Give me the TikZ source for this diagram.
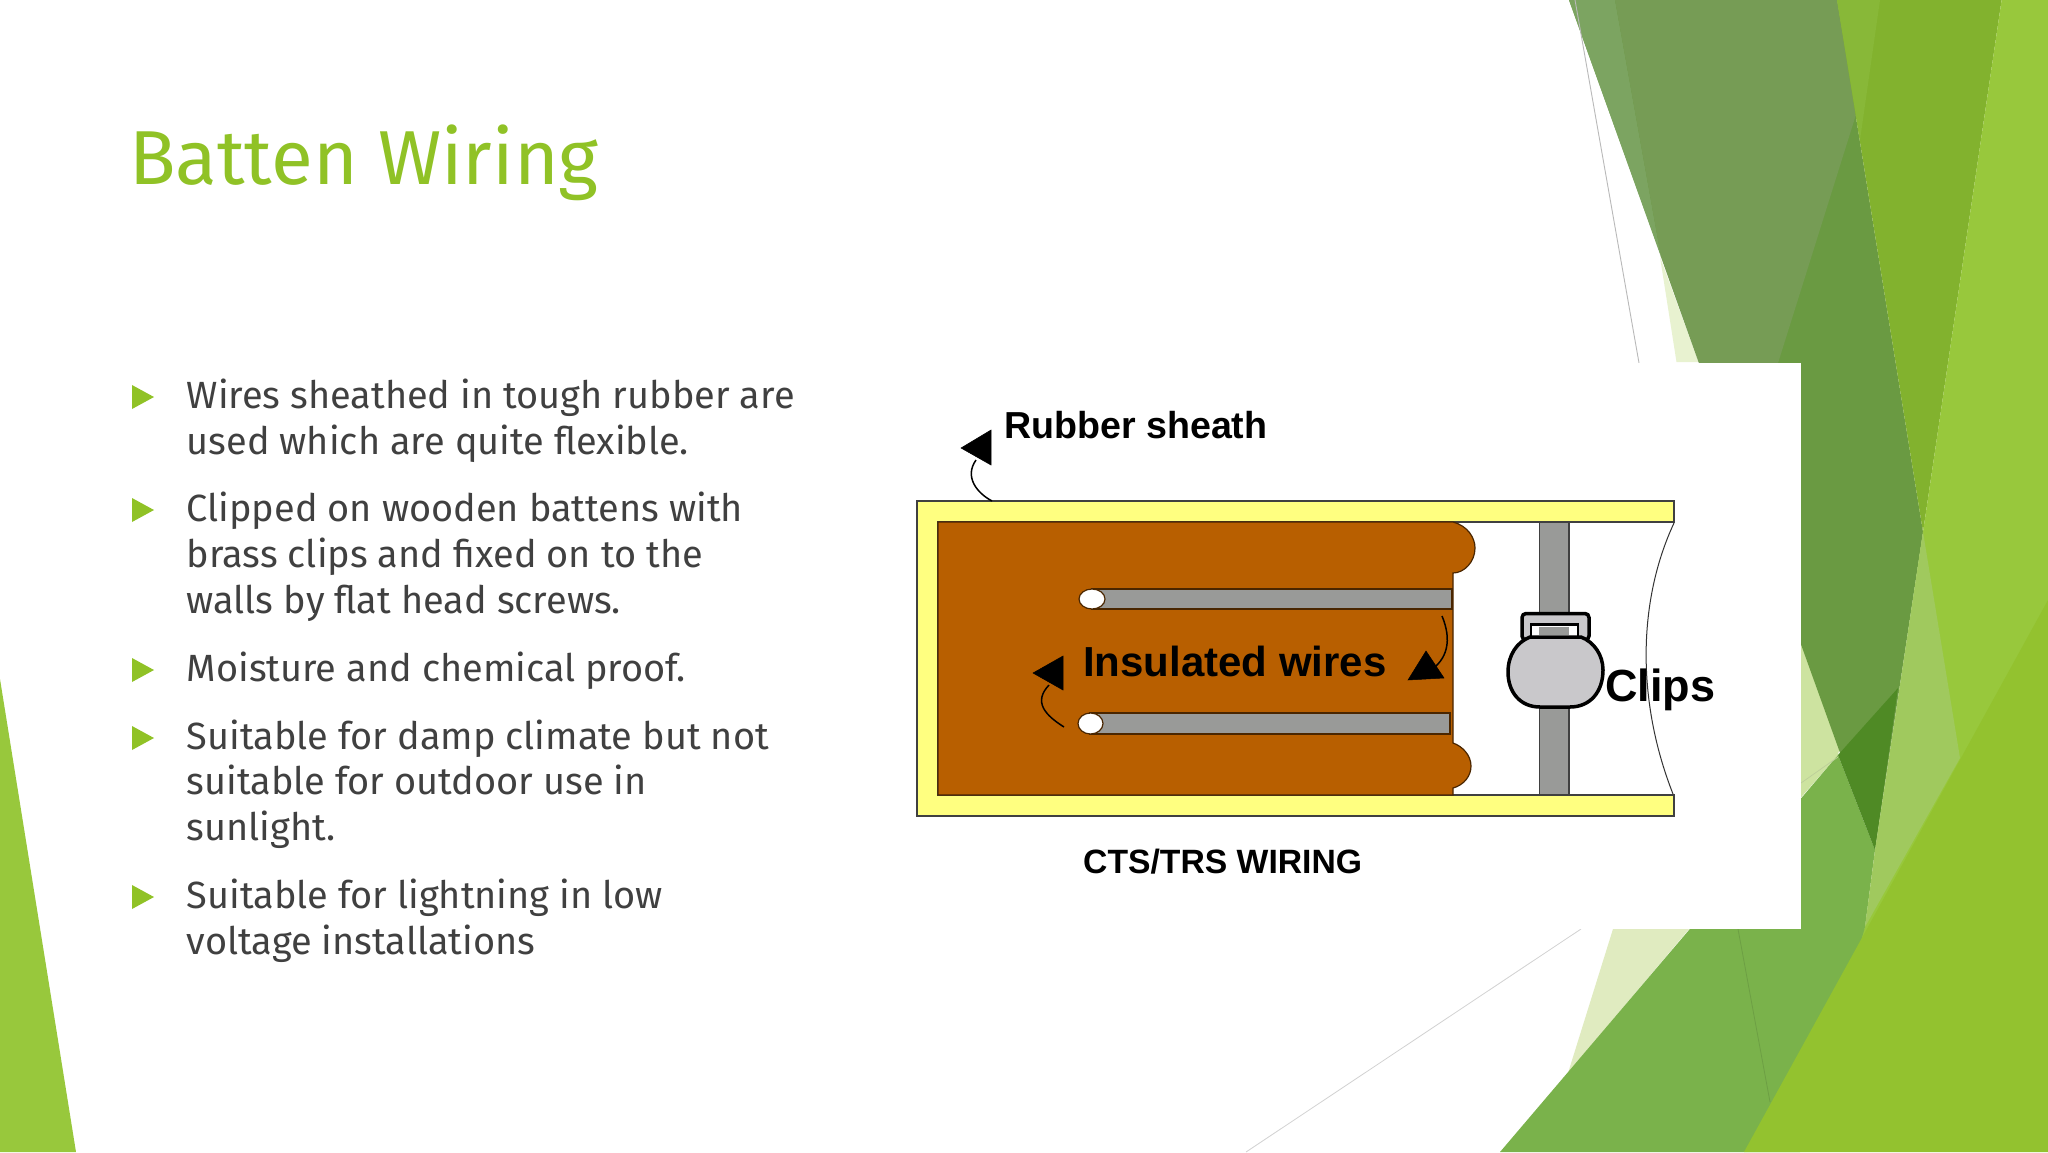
\documentclass[tikz,border=0pt]{standalone}
\usepackage{fontspec}
\setmainfont{Fira Sans}
\newfontfamily\arialf{Liberation Sans}
\definecolor{titlegreen}{HTML}{90C226}
\definecolor{bodygray}{HTML}{404040}
\definecolor{gA}{HTML}{6A9A42}
\definecolor{gB}{HTML}{769C55}
\definecolor{gC}{HTML}{7CA461}
\definecolor{gD}{HTML}{82B22E}
\definecolor{gD2}{HTML}{88B838}
\definecolor{gE}{HTML}{98C83C}
\definecolor{gF}{HTML}{A0C95E}
\definecolor{gG}{HTML}{93C22F}
\definecolor{gH}{HTML}{7AB24B}
\definecolor{gI}{HTML}{4F8A25}
\definecolor{paleA}{HTML}{CDE3A0}
\definecolor{paleB}{HTML}{E0EBC0}
\definecolor{paleC}{HTML}{E8F2D0}
\definecolor{sheath}{HTML}{FFFF80}
\definecolor{wood}{HTML}{B85F00}
\definecolor{wire}{HTML}{999A98}
\definecolor{clipg}{HTML}{C9C8CB}
\tikzset{
  bodyline/.style={anchor=base west,inner sep=0pt,text=bodygray,font=\fontsize{37.9}{44}\selectfont},
  bullet/.style={fill=titlegreen,draw=none},
  lbl/.style={inner sep=0pt,text=black},
  pointer/.style={draw=black,line width=1.5pt},
  tip/.style={fill=black,draw=black,line width=.5pt},
  part/.style={draw=black!75,line width=1.2pt},
}
\begin{document}
\begin{tikzpicture}[x=1pt,y=-1pt]
\useasboundingbox (0,0) rectangle (2048,1152);
% background shapes
\fill[white] (0,0) rectangle (2048,1152);
\fill[gE] (0,679) -- (76,1152) -- (0,1152) -- cycle;
\fill[paleA] (1790,600) -- (1850,700) -- (1838,755) -- (1790,810) -- cycle;
\fill[paleC] (1660,257) -- (1676.5,362) -- (1698.5,362) -- cycle;
\fill[paleB] (1613,929) -- (1689,929) -- (1568,1073) -- cycle;
\fill[gA] (1569,0) -- (1837,0) -- (1923,532) -- (1875,850) -- cycle;
\fill[gC] (1569,0) -- (1615,0) -- (1661,257) -- cycle;
\fill[gB] (1615,0) -- (1837,0) -- (1856.5,113) -- (1741,481) -- (1661,257) -- cycle;
\fill[gD] (1837,0) -- (2001.6,0) -- (1923,532) -- cycle;
\fill[gD2] (1837,0) -- (1880,0) -- (1860,140) -- cycle;
\fill[gE] (2001.6,0) -- (2048,0) -- (2048,700) -- (1800,1060) -- (1865,927) -- (1923,532) -- cycle;
\fill[gH] (1500,1152) -- (1838,755) -- (1875,850) -- (1865,927) -- (1800,1152) -- cycle;
\fill[gI] (1838,755) -- (1898,688) -- (1875,850) -- cycle;
\fill[gF] (1923,532) -- (1960,758) -- (1865,927) -- (1875,850) -- cycle;
\fill[gG] (2048,600) -- (2048,1152) -- (1744,1152) -- cycle;
\draw[gray!55,line width=.9pt] (1575,0) -- (1639,363);
\draw[gray!35,line width=.8pt] (1581,929) -- (1246,1152);
\draw[gA!80!gH,line width=.8pt] (1738,929) -- (1770,1102);
\draw[paleA!80!gray,line width=.7pt] (1801,783) -- (1838,757);
% picture panel
\fill[white] (880,363) rectangle (1801,929);
% title
\node[anchor=base west,inner sep=0pt,text=titlegreen,font=\fontsize{76.5}{80}\selectfont] (title) at (129,184) {Batten Wiring};
% bullets
\foreach \y/\n in {397/a,510/b,670/c,738/d,897/e}{
  \fill[bullet] (132,\y-12) -- (154,\y) -- (132,\y+12) -- cycle;
}
\node[bodyline] (l1) at (186.5,408.5) {Wires sheathed in tough rubber are};
\node[bodyline] (l2) at (186.5,454) {used which are quite flexible.};
\node[bodyline] (l3) at (186.5,521.5) {Clipped on wooden battens with};
\node[bodyline] (l4) at (186.5,567.5) {brass clips and fixed on to the};
\node[bodyline] (l5) at (186.5,613.5) {walls by flat head screws.};
\node[bodyline] (l6) at (186.5,681.5) {Moisture and chemical proof.};
\node[bodyline] (l7) at (186.5,749) {Suitable for damp climate but not};
\node[bodyline] (l8) at (186.5,794.5) {suitable for outdoor use in};
\node[bodyline] (l9) at (186.5,840.5) {sunlight.};
\node[bodyline] (l10) at (186.5,908.5) {Suitable for lightning in low};
\node[bodyline] (l11) at (186.5,954.5) {voltage installations};
% sheath
\path[part,fill=sheath] (917,501) -- (1674,501) -- (1674,522) -- (938,522) -- (938,795) -- (1674,795) -- (1674,816) -- (917,816) -- cycle;
\draw[black!80,line width=1pt] (1674,523) .. controls (1638,600) and (1636,700) .. (1673,794);
% wood
\path[part,fill=wood,draw=black!60!wood] (938,522) -- (1453,522) .. controls (1468,526) and (1475,538) .. (1475,548)
  .. controls (1475,562) and (1464,573) .. (1453,573) -- (1453,743)
  .. controls (1462,746) and (1471,755) .. (1471,766) .. controls (1471,776) and (1464,785) .. (1453,788)
  -- (1453,795) -- (938,795) -- cycle;
% wires
\path[part,fill=wire,draw=black!60!wood] (1092,589) -- (1452,589) -- (1452,609) -- (1092,609) -- cycle;
\path[part,fill=wire,draw=black!60!wood] (1090,713) -- (1450,713) -- (1450,734) -- (1090,734) -- cycle;
\path[part,fill=white,draw=black!60!wood] (1092,599) ellipse [x radius=13,y radius=10];
\path[part,fill=white,draw=black!60!wood] (1090.5,723.5) ellipse [x radius=12.5,y radius=10.5];
% strap
\path[part,fill=wire] (1539.5,522) rectangle (1569,795);
% clip
\path[draw=black,line width=3.5pt,fill=clipg,rounded corners=4pt] (1522,640) -- (1522,613.5) -- (1589,613.5) -- (1589,640) -- cycle;
\path[fill=white,draw=black,line width=2.8pt] (1531,637) rectangle (1578,624.5);
\fill[wire] (1539,627) rectangle (1569,635);
\path[draw=black,line width=3.5pt,fill=clipg] (1530,637) -- (1581,637)
  .. controls (1594,642) and (1603,655) .. (1603,670)
  .. controls (1603,692) and (1590,707) .. (1570,707) -- (1540,707)
  .. controls (1520,707) and (1508,692) .. (1508,672)
  .. controls (1508,655) and (1517,642) .. (1530,637) -- cycle;
% labels
\node[lbl,font={\arialf\bfseries\fontsize{37.6}{40}\selectfont},anchor=base west] (rubber) at (1004,438) {Rubber sheath};
\node[lbl,font={\arialf\bfseries\fontsize{42}{44}\selectfont},anchor=base west] (ins) at (1083,676) {Insulated wires};
\node[lbl,font={\arialf\bfseries\fontsize{45}{48}\selectfont},anchor=base west] (clips) at (1605,701) {Clips};
\node[lbl,font={\arialf\bfseries\fontsize{33.7}{36}\selectfont},anchor=base west] (cts) at (1083,873) {CTS/TRS WIRING};
% pointers
\coordinate (p1a) at (992,501); \coordinate (p1b) at (976,460);
\coordinate (p2a) at (1064,727); \coordinate (p2b) at (1049,685);
\coordinate (p3a) at (1442,616); \coordinate (p3b) at (1428,672);
\draw[pointer] (p1a) .. controls (977,493) and (964,477) .. (p1b);
\path[tip] (961,448) -- (991,430) -- (991,465) -- cycle;
\draw[pointer] (p2a) .. controls (1045,715) and (1033,702) .. (p2b);
\path[tip] (1033,673) -- (1063,656) -- (1063,690) -- cycle;
\draw[pointer] (p3a) .. controls (1452,640) and (1448,660) .. (p3b);
\path[tip] (1408,680) -- (1426,651) -- (1444,678) -- cycle;
\end{tikzpicture}
\end{document}
